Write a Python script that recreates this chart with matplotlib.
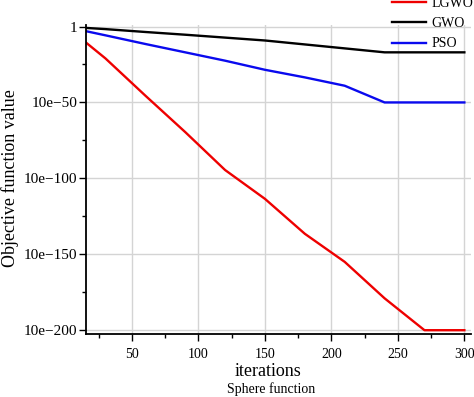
import matplotlib
matplotlib.use("Agg")
import matplotlib.pyplot as plt
from matplotlib.ticker import MultipleLocator

plt.rcParams['font.family'] = ['Liberation Serif', 'DejaVu Serif']

# exponent of the objective value (log10)
iterations = [15, 30, 60, 90, 120, 150, 180, 210, 240, 270, 300]
lgwo = [-10.3, -21, -45.5, -69.5, -94.5, -113.5, -136.5, -155, -179, -200, -200]
gwo = [-0.9, -1.7, -3.6, -5.4, -7.3, -9.2, -11.8, -14.4, -17, -17, -17]
pso = [-3, -5.8, -11.5, -17, -22.5, -28.5, -33.5, -39, -50, -50, -50]

ytick_vals = [0, -50, -100, -150, -200]
ytick_labels = ["1", "10e\u221250", "10e\u2212100", "10e\u2212150", "10e\u2212200"]
xtick_vals = [50, 100, 150, 200, 250, 300]

fig = plt.figure(figsize=(4.74, 3.97), dpi=100)
ax = fig.add_axes([85.5 / 474, 1 - 334 / 397, (471 - 85.5) / 474, (334 - 25) / 397])

ax.plot(iterations, lgwo, color="#ee0000", lw=1.7, label="LGWO")
ax.plot(iterations, gwo, color="black", lw=1.7, label="GWO")
ax.plot(iterations, pso, color="#0a0aee", lw=1.7, label="PSO")

ax.set_xlim(15, 305)
ax.set_ylim(-202.5, 1)
ax.set_xticks(xtick_vals)
ax.set_yticks(ytick_vals)
ax.set_yticklabels(ytick_labels)
ax.xaxis.set_minor_locator(MultipleLocator(25))
ax.yaxis.set_minor_locator(MultipleLocator(25))
ax.tick_params(axis="both", which="major", direction="out", length=5, width=1)
ax.tick_params(axis="both", which="minor", direction="out", length=3, width=1)
ax.tick_params(axis="x", which="major", pad=5, labelsize=10)
ax.tick_params(axis="y", which="major", pad=1, labelsize=11)
ax.grid(True, which="major", color="#d4d4d4", lw=1)
ax.set_axisbelow(True)

for side in ["top", "right"]:
    ax.spines[side].set_visible(False)
for side in ["left", "bottom"]:
    ax.spines[side].set_linewidth(1.3)

ax.set_xlabel("iterations", fontsize=13)
ax.xaxis.set_label_coords((268 - 85.5) / (471 - 85.5), -0.095)
fig.text(1 / 474, 0.5 + (397 / 2 - 178.5) / 397, "Objective function value",
         rotation=90, ha="left", va="center", fontsize=13)
fig.text(271 / 474, 1 - 389 / 397, "Sphere function", ha="center", va="center", fontsize=10)

fig.legend(loc="center left", bbox_to_anchor=(391.7 / 474, 1 - 23.7 / 397),
           frameon=False, fontsize=10, borderpad=0, borderaxespad=0,
           handlelength=2.5, handletextpad=0.35, labelspacing=0.52)

fig.savefig("out.png", dpi=100)
